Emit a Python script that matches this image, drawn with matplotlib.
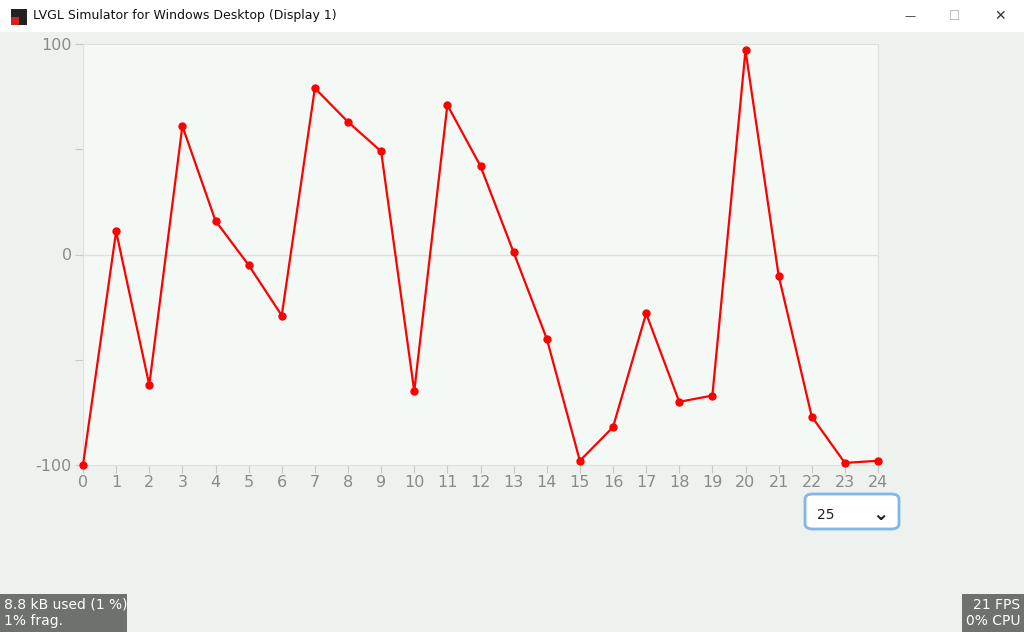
import matplotlib
matplotlib.use("Agg")
import matplotlib.pyplot as plt
from matplotlib.patches import Rectangle, FancyBboxPatch

xs = list(range(25))
values = [-100, 11, -62, 61, 16, -5, -29, 79, 63, 49, -65, 71, 42, 1, -40, -98, -82, -28, -70, -67, 97, -10, -77, -99, -98]
y_labels = {100: "100", 50: "", 0: "0", -50: "", -100: "-100"}

W, H = 1024, 632
fig = plt.figure(figsize=(W/100, H/100), dpi=100)
fig.patch.set_facecolor("#eef2ef")

def fx(px): return px / W
def fy(py): return 1 - py / H

# title bar
fig.patches.append(Rectangle((0, fy(32)), 1, 32/H, transform=fig.transFigure, facecolor="white", edgecolor="none"))
fig.patches.append(Rectangle((fx(11), fy(25)), 16/W, 16/H, transform=fig.transFigure, facecolor="#222222", edgecolor="none"))
fig.patches.append(Rectangle((fx(11), fy(25)), 8/W, 8/H, transform=fig.transFigure, facecolor="#cc2222", edgecolor="none"))
fig.text(fx(33), fy(16), "LVGL Simulator for Windows Desktop (Display 1)", fontsize=9, va="center", color="#111111")
fig.text(fx(910), fy(16), "—", fontsize=8, va="center", ha="center", color="#333333")
fig.text(fx(955), fy(16), "☐", fontsize=9, va="center", ha="center", color="#aaaaaa")
fig.text(fx(1000), fy(16), "✕", fontsize=10, va="center", ha="center", color="#333333")

ax = fig.add_axes([fx(83), fy(465), 795/W, 421/H])
ax.set_facecolor("#f5f9f6")
ax.plot(xs, values, color="#ff0000", lw=1.6, marker="o", ms=5, mec="#ff0000", mfc="#ff0000", clip_on=False, zorder=3)
ax.set_xlim(0, 24)
ax.set_ylim(-100, 100)
ax.axhline(0, color="#dde0dd", lw=1, zorder=1)
for s in ax.spines.values():
    s.set_color("#dde0dd")
ax.set_xticks(xs)
ax.set_xticklabels([str(x) for x in xs])
ax.set_yticks(list(y_labels.keys()))
ax.set_yticklabels(list(y_labels.values()))
ax.tick_params(axis="both", colors="#c8c8c8", labelcolor="#8a8a8a", labelsize=11.5, length=6)
ax.tick_params(axis="x", pad=1)
ax.tick_params(axis="y", pad=2)

# dropdown
fig.patches.append(FancyBboxPatch((fx(805), fy(529)), 94/W, 35/H, boxstyle="round,pad=0,rounding_size=0.008",
                                  transform=fig.transFigure, facecolor="white", edgecolor="#7fb8e8", lw=2))
fig.text(fx(817), fy(515), "25", fontsize=10, va="center", color="#222222")
fig.text(fx(880), fy(514), "⌄", fontsize=14, va="center", ha="center", color="#222222", fontweight="bold")

# overlays
fig.patches.append(Rectangle((0, 0), 127/W, 38/H, transform=fig.transFigure, facecolor="#6e716e", edgecolor="none"))
fig.text(fx(4), fy(605), "8.8 kB used (1 %)", fontsize=10, va="center", color="white")
fig.text(fx(4), fy(621), "1% frag.", fontsize=10, va="center", color="white")
fig.patches.append(Rectangle((fx(962), 0), 62/W, 38/H, transform=fig.transFigure, facecolor="#6e716e", edgecolor="none"))
fig.text(fx(1020), fy(605), "21 FPS", fontsize=10, va="center", ha="right", color="white")
fig.text(fx(1020), fy(621), "0% CPU", fontsize=10, va="center", ha="right", color="white")

fig.savefig("out.png", dpi=100, facecolor=fig.get_facecolor())
